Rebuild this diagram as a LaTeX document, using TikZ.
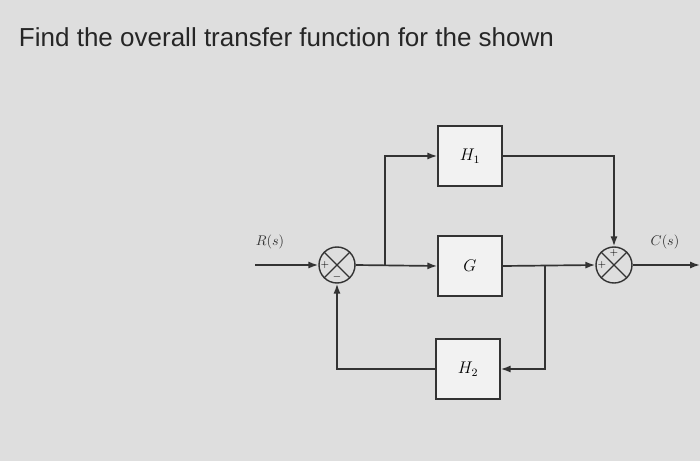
\documentclass[tikz,border=0pt]{standalone}
\usepackage{fontspec}
\setmainfont{Liberation Serif}
\newfontfamily\titlefont{Liberation Sans}
\usetikzlibrary{arrows.meta}
\begin{document}
\begin{tikzpicture}[x=0.025cm,y=-0.025cm,
  blk/.style={draw=black!80,line width=1pt,fill=black!5,minimum width=1.6cm,minimum height=1.5cm,inner sep=0pt},
  sumj/.style={draw=black!80,line width=1pt,circle,minimum size=0.9cm,inner sep=0pt},
  sig/.style={draw=black!80,line width=1.2pt,-{Latex[length=7pt,width=5pt]}},
  lbl/.style={font=\itshape,text=black!80}]
\useasboundingbox[fill=black!13] (0,0) rectangle (700,461);
\node[anchor=west,font=\titlefont\fontsize{18.5}{22}\selectfont,text=black!85] (title) at (14,37) {Find the overall transfer function for the shown};
\node[sumj] (s1) at (337,265) {};
\node[sumj] (s2) at (614,265) {};
\foreach \s in {s1,s2}{
 \draw[black!80,line width=0.8pt] (\s.north west)--(\s.south east) (\s.north east)--(\s.south west);}
\node[blk,font=\large] (h1) at (470,156) {$H_1$};
\node[blk,font=\large] (g) at (470,266) {$G$};
\node[blk,font=\large] (h2) at (468,369) {$H_2$};
\coordinate (in) at (255,265);
\coordinate (out) at (700,265);
\coordinate (b1) at (385,265);
\coordinate (b2) at (545,265);
\draw[sig] (in) -- (s1.west);
\draw[sig] (s1.east) -- (g.west);
\draw[sig] (b1) |- (h1.west);
\draw[sig] (h1.east) -| (s2.north);
\draw[sig] (g.east) -- (s2.west);
\draw[sig] (b2) |- (h2.east);
\draw[sig] (h2.west) -| (s1.south);
\draw[sig] (s2.east) -- (out);
\node[lbl] (r) at (270,242) {$R(s)$};
\node[lbl] (c) at (665,242) {$C(s)$};
\node[font=\scriptsize] (p1) at (325,265) {$+$};
\node[font=\scriptsize] (m1) at (337,277) {$-$};
\node[font=\scriptsize] (p2) at (602,265) {$+$};
\node[font=\scriptsize] (p3) at (614,253) {$+$};
\end{tikzpicture}
\end{document}
